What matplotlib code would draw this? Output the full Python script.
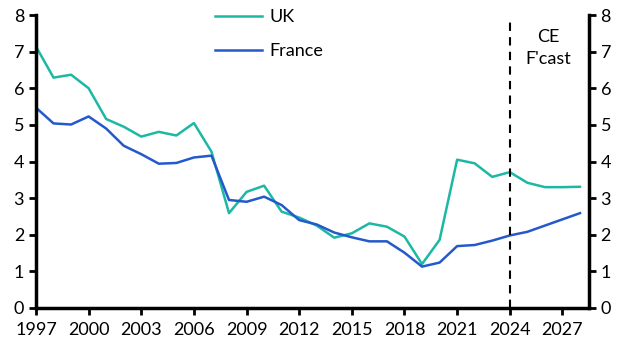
import matplotlib
matplotlib.use("Agg")
import matplotlib.pyplot as plt

years = list(range(1997, 2029))
uk = [7.14, 6.29, 6.37, 6.00, 5.16, 4.95, 4.68, 4.81, 4.71, 5.05, 4.27,
      2.59, 3.17, 3.34, 2.63, 2.47, 2.25, 1.92, 2.04, 2.31, 2.22, 1.95,
      1.20, 1.86, 4.05, 3.95, 3.58, 3.71, 3.42, 3.30, 3.30, 3.31]
france = [5.47, 5.04, 5.01, 5.23, 4.90, 4.43, 4.20, 3.94, 3.96, 4.11, 4.16,
          2.95, 2.90, 3.04, 2.81, 2.40, 2.28, 2.06, 1.93, 1.82, 1.82, 1.51,
          1.13, 1.24, 1.69, 1.72, 1.84, 1.98, 2.08, 2.25, 2.42, 2.59]
xticks = list(range(1997, 2028, 3))
yticks = list(range(0, 9))
forecast_start = 2024

plt.rcParams['font.family'] = ['Lato', 'DejaVu Sans']
fig = plt.figure(figsize=(6.29, 3.55), dpi=100)
ax = fig.add_axes([0.0572, 0.1324, 0.8788, 0.8253])

ax.plot(years, uk, color='#1DB8A4', lw=1.8, label='UK')
ax.plot(years, france, color='#2459CC', lw=1.8, label='France')
ax.plot([forecast_start, forecast_start], [0, 7.9], color='black', lw=1.5, ls=(0, (4, 3)))

ax.set_xlim(1997, 2028.5)
ax.set_ylim(0, 8)
ax.set_xticks(xticks)
ax.set_yticks(yticks)
ax.tick_params(axis='both', labelsize=13, width=2, length=5, direction='out')
ax.tick_params(axis='x', pad=5)
ax.tick_params(axis='y', right=True, labelright=True)
for side in ['left', 'right', 'bottom']:
    ax.spines[side].set_linewidth(2.5)
ax.spines['top'].set_visible(False)

ax.text(2026.2, 7.1, "CE\nF'cast", ha='center', va='center', fontsize=13, linespacing=1.5)

leg = ax.legend(loc='upper left', bbox_to_anchor=(0.295, 1.075), frameon=False,
                fontsize=13, handlelength=2.6, handletextpad=0.4, labelspacing=1.0)

fig.savefig('out.png', dpi=100)
